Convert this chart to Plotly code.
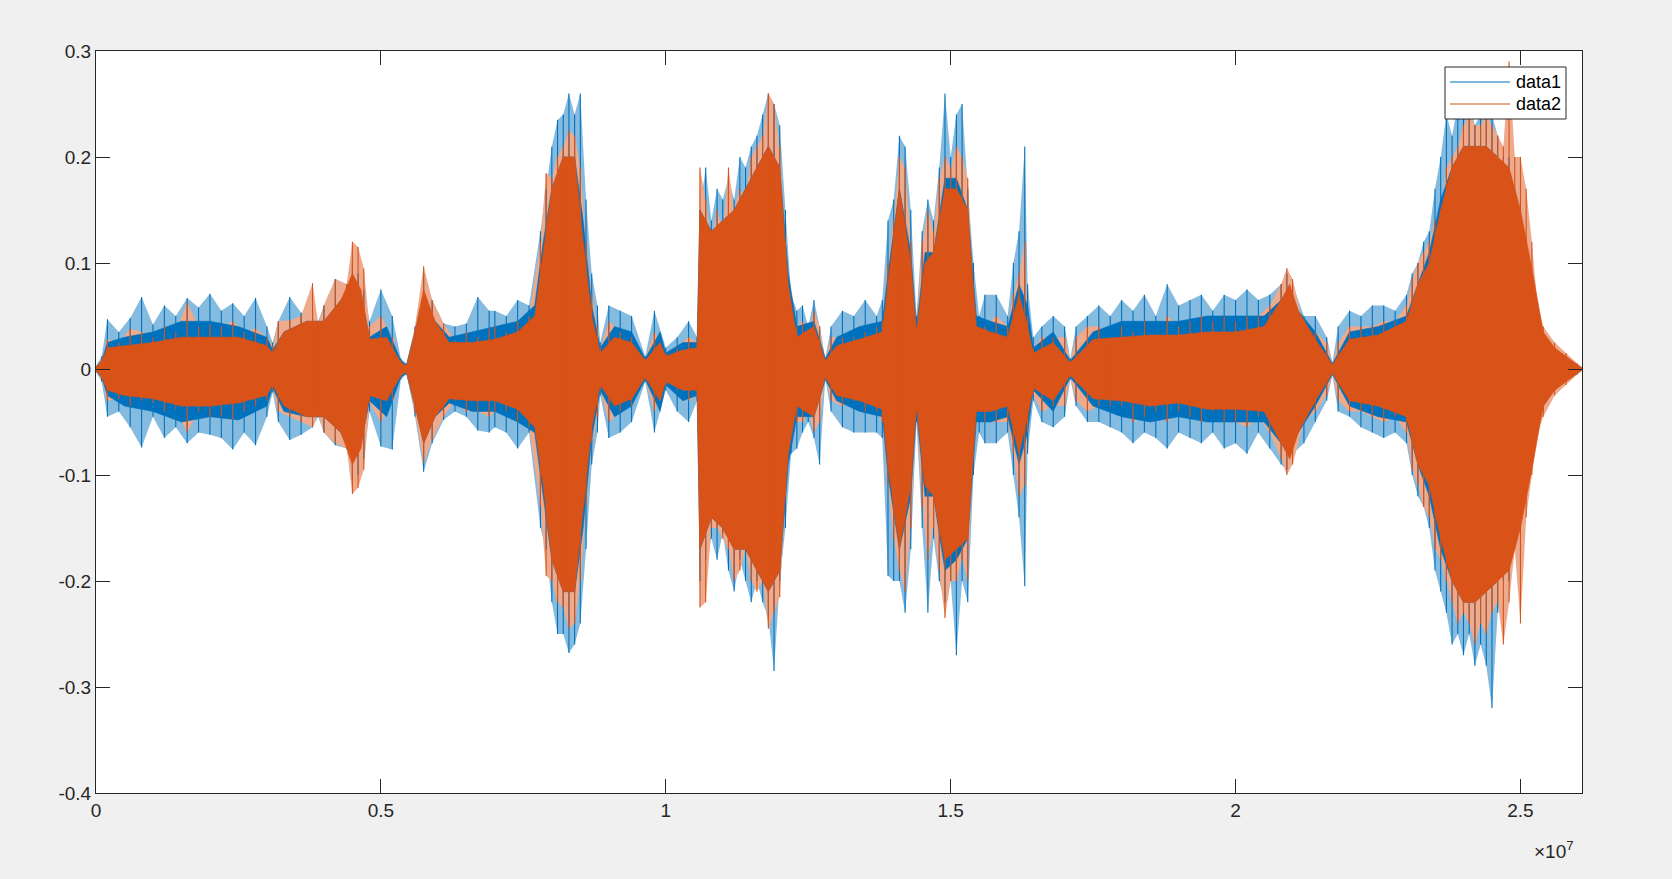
import plotly.graph_objects as go

SCALE = 1e7  # x values below are in units of 1e7 samples

# ---- peak (needle) extremes ----
peak_x = [0.000, 0.010, 0.020, 0.040, 0.060, 0.080, 0.100, 0.120, 0.140, 0.160,
          0.180, 0.200, 0.220, 0.240, 0.260, 0.280, 0.300, 0.310, 0.320, 0.340,
          0.360, 0.380, 0.390, 0.400, 0.420, 0.440, 0.450, 0.460, 0.470, 0.480,
          0.500, 0.520, 0.535, 0.545, 0.560, 0.575, 0.590, 0.610, 0.630, 0.650,
          0.670, 0.690, 0.700, 0.720, 0.740, 0.760, 0.780, 0.790, 0.800, 0.810,
          0.820, 0.830, 0.840, 0.850, 0.860, 0.870, 0.880, 0.885, 0.900, 0.920,
          0.940, 0.964, 0.980, 1.000, 1.020, 1.040, 1.055, 1.060, 1.070, 1.080,
          1.090, 1.100, 1.110, 1.120, 1.130, 1.140, 1.150, 1.160, 1.170, 1.180,
          1.190, 1.200, 1.210, 1.220, 1.230, 1.240, 1.250, 1.260, 1.270, 1.280,
          1.290, 1.310, 1.330, 1.350, 1.370, 1.380, 1.390, 1.400, 1.410, 1.420,
          1.430, 1.440, 1.450, 1.460, 1.470, 1.480, 1.490, 1.500, 1.510, 1.520,
          1.530, 1.540, 1.550, 1.560, 1.580, 1.600, 1.610, 1.620, 1.630, 1.635,
          1.645, 1.660, 1.680, 1.700, 1.710, 1.720, 1.740, 1.760, 1.780, 1.800,
          1.820, 1.840, 1.860, 1.880, 1.900, 1.920, 1.940, 1.960, 1.980, 2.000,
          2.020, 2.040, 2.060, 2.080, 2.090, 2.100, 2.120, 2.140, 2.160, 2.170,
          2.180, 2.200, 2.220, 2.240, 2.260, 2.280, 2.300, 2.310, 2.320, 2.330,
          2.340, 2.350, 2.360, 2.370, 2.380, 2.390, 2.400, 2.410, 2.420, 2.430,
          2.440, 2.450, 2.460, 2.470, 2.480, 2.490, 2.500, 2.510, 2.520, 2.530,
          2.540, 2.560, 2.580, 2.600, 2.608]

data1_peak_up = [0.003, 0.012, 0.047, 0.035, 0.048, 0.068, 0.042, 0.060, 0.050, 0.067,
                 0.058, 0.071, 0.055, 0.062, 0.050, 0.067, 0.040, 0.025, 0.045, 0.068,
                 0.053, 0.055, 0.045, 0.060, 0.085, 0.080, 0.100, 0.090, 0.075, 0.045,
                 0.075, 0.050, 0.010, 0.005, 0.040, 0.090, 0.065, 0.043, 0.040, 0.043,
                 0.068, 0.055, 0.055, 0.050, 0.065, 0.060, 0.130, 0.170, 0.210, 0.235,
                 0.240, 0.260, 0.240, 0.260, 0.160, 0.090, 0.060, 0.025, 0.060, 0.055,
                 0.050, 0.012, 0.055, 0.020, 0.030, 0.045, 0.030, 0.150, 0.190, 0.140,
                 0.170, 0.160, 0.180, 0.160, 0.200, 0.190, 0.210, 0.220, 0.240, 0.260,
                 0.250, 0.230, 0.150, 0.070, 0.055, 0.060, 0.040, 0.065, 0.040, 0.010,
                 0.040, 0.055, 0.050, 0.065, 0.050, 0.065, 0.140, 0.160, 0.220, 0.210,
                 0.150, 0.050, 0.130, 0.160, 0.140, 0.190, 0.260, 0.200, 0.240, 0.250,
                 0.170, 0.100, 0.050, 0.070, 0.070, 0.050, 0.100, 0.130, 0.210, 0.080,
                 0.030, 0.040, 0.050, 0.040, 0.010, 0.040, 0.050, 0.060, 0.050, 0.065,
                 0.055, 0.070, 0.050, 0.080, 0.060, 0.065, 0.070, 0.055, 0.070, 0.065,
                 0.075, 0.065, 0.070, 0.080, 0.090, 0.080, 0.050, 0.050, 0.030, 0.006,
                 0.040, 0.055, 0.050, 0.060, 0.060, 0.055, 0.070, 0.090, 0.100, 0.120,
                 0.130, 0.170, 0.200, 0.240, 0.220, 0.250, 0.240, 0.250, 0.230, 0.240,
                 0.240, 0.240, 0.220, 0.200, 0.200, 0.170, 0.160, 0.120, 0.090, 0.050,
                 0.035, 0.020, 0.012, 0.005, 0.001]

data1_peak_low = [-0.003, -0.012, -0.045, -0.040, -0.055, -0.074, -0.045, -0.065, -0.055, -0.070,
                  -0.060, -0.062, -0.065, -0.076, -0.060, -0.072, -0.045, -0.022, -0.050, -0.067,
                  -0.062, -0.055, -0.045, -0.060, -0.072, -0.075, -0.105, -0.100, -0.085, -0.040,
                  -0.073, -0.076, -0.010, -0.005, -0.045, -0.097, -0.070, -0.048, -0.040, -0.045,
                  -0.058, -0.060, -0.055, -0.060, -0.075, -0.060, -0.150, -0.170, -0.220, -0.250,
                  -0.250, -0.268, -0.260, -0.240, -0.170, -0.090, -0.060, -0.025, -0.065, -0.060,
                  -0.050, -0.012, -0.060, -0.020, -0.040, -0.050, -0.030, -0.200, -0.180, -0.160,
                  -0.180, -0.155, -0.190, -0.210, -0.180, -0.200, -0.220, -0.200, -0.220, -0.235,
                  -0.285, -0.200, -0.150, -0.080, -0.075, -0.060, -0.050, -0.065, -0.090, -0.010,
                  -0.040, -0.055, -0.060, -0.060, -0.060, -0.065, -0.195, -0.200, -0.200, -0.230,
                  -0.170, -0.050, -0.150, -0.230, -0.160, -0.200, -0.220, -0.200, -0.270, -0.200,
                  -0.220, -0.100, -0.060, -0.070, -0.070, -0.060, -0.100, -0.140, -0.205, -0.080,
                  -0.030, -0.050, -0.055, -0.045, -0.010, -0.035, -0.050, -0.050, -0.055, -0.060,
                  -0.070, -0.060, -0.065, -0.075, -0.060, -0.065, -0.070, -0.060, -0.075, -0.070,
                  -0.080, -0.060, -0.075, -0.090, -0.095, -0.080, -0.070, -0.050, -0.030, -0.006,
                  -0.040, -0.045, -0.055, -0.060, -0.065, -0.060, -0.070, -0.100, -0.120, -0.130,
                  -0.150, -0.190, -0.210, -0.230, -0.260, -0.250, -0.270, -0.250, -0.280, -0.260,
                  -0.280, -0.320, -0.230, -0.200, -0.200, -0.160, -0.140, -0.120, -0.090, -0.050,
                  -0.040, -0.020, -0.012, -0.005, -0.001]

data2_peak_up = [0.002, 0.010, 0.028, 0.025, 0.038, 0.035, 0.030, 0.040, 0.035, 0.063,
                 0.040, 0.042, 0.040, 0.045, 0.035, 0.038, 0.030, 0.022, 0.045, 0.046,
                 0.050, 0.081, 0.043, 0.060, 0.085, 0.080, 0.120, 0.115, 0.095, 0.040,
                 0.050, 0.030, 0.008, 0.004, 0.040, 0.097, 0.065, 0.043, 0.027, 0.035,
                 0.030, 0.038, 0.040, 0.035, 0.045, 0.050, 0.120, 0.185, 0.180, 0.200,
                 0.210, 0.225, 0.220, 0.190, 0.120, 0.070, 0.040, 0.020, 0.045, 0.035,
                 0.030, 0.010, 0.035, 0.015, 0.020, 0.030, 0.025, 0.190, 0.160, 0.120,
                 0.150, 0.130, 0.190, 0.150, 0.170, 0.160, 0.200, 0.210, 0.220, 0.260,
                 0.250, 0.210, 0.120, 0.050, 0.040, 0.045, 0.035, 0.055, 0.040, 0.008,
                 0.030, 0.030, 0.030, 0.035, 0.040, 0.045, 0.100, 0.140, 0.200, 0.190,
                 0.120, 0.040, 0.120, 0.150, 0.130, 0.180, 0.200, 0.190, 0.210, 0.200,
                 0.180, 0.070, 0.040, 0.040, 0.050, 0.040, 0.070, 0.090, 0.120, 0.050,
                 0.020, 0.030, 0.030, 0.030, 0.008, 0.030, 0.040, 0.040, 0.030, 0.040,
                 0.035, 0.045, 0.030, 0.050, 0.040, 0.045, 0.050, 0.045, 0.050, 0.045,
                 0.050, 0.050, 0.060, 0.080, 0.095, 0.085, 0.040, 0.035, 0.025, 0.005,
                 0.025, 0.040, 0.040, 0.040, 0.045, 0.045, 0.060, 0.085, 0.100, 0.110,
                 0.120, 0.140, 0.150, 0.190, 0.200, 0.210, 0.230, 0.240, 0.230, 0.230,
                 0.240, 0.230, 0.220, 0.210, 0.290, 0.200, 0.200, 0.170, 0.120, 0.060,
                 0.040, 0.025, 0.015, 0.005, 0.001]

data2_peak_low = [-0.002, -0.010, -0.030, -0.028, -0.035, -0.030, -0.032, -0.040, -0.038, -0.060,
                  -0.040, -0.045, -0.045, -0.048, -0.040, -0.035, -0.030, -0.020, -0.040, -0.045,
                  -0.050, -0.055, -0.042, -0.060, -0.070, -0.075, -0.118, -0.112, -0.095, -0.032,
                  -0.050, -0.030, -0.008, -0.004, -0.042, -0.089, -0.067, -0.045, -0.030, -0.040,
                  -0.040, -0.045, -0.040, -0.040, -0.050, -0.055, -0.130, -0.195, -0.200, -0.220,
                  -0.225, -0.245, -0.240, -0.200, -0.130, -0.070, -0.045, -0.020, -0.050, -0.040,
                  -0.035, -0.010, -0.040, -0.015, -0.020, -0.030, -0.025, -0.225, -0.220, -0.150,
                  -0.150, -0.160, -0.170, -0.200, -0.190, -0.170, -0.200, -0.210, -0.200, -0.245,
                  -0.230, -0.215, -0.120, -0.050, -0.050, -0.050, -0.040, -0.060, -0.050, -0.008,
                  -0.030, -0.035, -0.030, -0.040, -0.040, -0.050, -0.110, -0.160, -0.190, -0.210,
                  -0.150, -0.040, -0.130, -0.180, -0.150, -0.190, -0.235, -0.200, -0.200, -0.180,
                  -0.200, -0.070, -0.040, -0.050, -0.050, -0.050, -0.080, -0.120, -0.110, -0.060,
                  -0.025, -0.040, -0.035, -0.035, -0.008, -0.030, -0.040, -0.035, -0.035, -0.035,
                  -0.050, -0.045, -0.040, -0.050, -0.040, -0.045, -0.050, -0.040, -0.050, -0.050,
                  -0.055, -0.045, -0.060, -0.085, -0.100, -0.090, -0.050, -0.040, -0.025, -0.005,
                  -0.030, -0.040, -0.040, -0.045, -0.050, -0.045, -0.060, -0.095, -0.110, -0.130,
                  -0.140, -0.170, -0.180, -0.200, -0.220, -0.240, -0.230, -0.240, -0.260, -0.240,
                  -0.250, -0.230, -0.220, -0.260, -0.220, -0.170, -0.240, -0.140, -0.100, -0.060,
                  -0.045, -0.025, -0.015, -0.005, -0.001]

# ---- dense core band ----
core_x = [0.000, 0.010, 0.020, 0.050, 0.100, 0.150, 0.200, 0.250, 0.300, 0.310,
          0.330, 0.370, 0.400, 0.430, 0.450, 0.465, 0.480, 0.510, 0.535, 0.545,
          0.560, 0.575, 0.595, 0.620, 0.660, 0.700, 0.740, 0.770, 0.785, 0.800,
          0.820, 0.840, 0.855, 0.870, 0.885, 0.910, 0.940, 0.964, 0.990, 1.000,
          1.030, 1.055, 1.060, 1.080, 1.100, 1.120, 1.140, 1.160, 1.180, 1.200,
          1.215, 1.230, 1.260, 1.280, 1.300, 1.340, 1.380, 1.390, 1.410, 1.430,
          1.440, 1.455, 1.470, 1.490, 1.510, 1.530, 1.545, 1.570, 1.600, 1.620,
          1.635, 1.645, 1.680, 1.710, 1.750, 1.800, 1.850, 1.900, 1.950, 2.000,
          2.050, 2.080, 2.095, 2.110, 2.140, 2.170, 2.200, 2.250, 2.300, 2.320,
          2.340, 2.360, 2.380, 2.400, 2.420, 2.440, 2.460, 2.480, 2.500, 2.520,
          2.540, 2.560, 2.580, 2.600, 2.608]

data1_core_up = [0.002, 0.008, 0.025, 0.030, 0.035, 0.045, 0.045, 0.040, 0.030, 0.018,
                 0.035, 0.045, 0.045, 0.065, 0.085, 0.070, 0.030, 0.040, 0.008, 0.004,
                 0.035, 0.070, 0.045, 0.030, 0.035, 0.040, 0.045, 0.060, 0.120, 0.170,
                 0.200, 0.200, 0.140, 0.060, 0.020, 0.040, 0.035, 0.010, 0.035, 0.015,
                 0.025, 0.025, 0.150, 0.130, 0.140, 0.150, 0.170, 0.190, 0.210, 0.190,
                 0.090, 0.040, 0.045, 0.010, 0.030, 0.040, 0.045, 0.090, 0.170, 0.110,
                 0.040, 0.110, 0.110, 0.180, 0.180, 0.150, 0.050, 0.045, 0.040, 0.080,
                 0.060, 0.020, 0.035, 0.008, 0.035, 0.045, 0.045, 0.045, 0.050, 0.050,
                 0.050, 0.065, 0.075, 0.055, 0.035, 0.005, 0.035, 0.040, 0.050, 0.080,
                 0.110, 0.160, 0.190, 0.210, 0.210, 0.210, 0.200, 0.180, 0.130, 0.075,
                 0.030, 0.018, 0.010, 0.004, 0.001]

data1_core_low = [-0.002, -0.008, -0.025, -0.035, -0.040, -0.050, -0.045, -0.048, -0.035, -0.018,
                  -0.040, -0.045, -0.045, -0.060, -0.085, -0.070, -0.030, -0.045, -0.008, -0.004,
                  -0.035, -0.070, -0.045, -0.032, -0.040, -0.040, -0.050, -0.060, -0.120, -0.180,
                  -0.210, -0.210, -0.150, -0.065, -0.020, -0.045, -0.035, -0.010, -0.040, -0.015,
                  -0.030, -0.025, -0.170, -0.140, -0.150, -0.170, -0.170, -0.190, -0.210, -0.190,
                  -0.090, -0.045, -0.045, -0.010, -0.030, -0.040, -0.045, -0.100, -0.170, -0.120,
                  -0.040, -0.120, -0.120, -0.190, -0.180, -0.160, -0.050, -0.050, -0.045, -0.090,
                  -0.060, -0.020, -0.040, -0.008, -0.035, -0.045, -0.050, -0.045, -0.050, -0.050,
                  -0.050, -0.070, -0.080, -0.060, -0.035, -0.005, -0.035, -0.045, -0.050, -0.090,
                  -0.120, -0.170, -0.200, -0.220, -0.220, -0.210, -0.200, -0.180, -0.130, -0.075,
                  -0.035, -0.018, -0.010, -0.004, -0.001]

data2_core_up = [0.002, 0.007, 0.020, 0.022, 0.025, 0.030, 0.030, 0.030, 0.022, 0.015,
                 0.035, 0.045, 0.045, 0.065, 0.090, 0.075, 0.028, 0.030, 0.006, 0.003,
                 0.035, 0.075, 0.045, 0.025, 0.025, 0.028, 0.035, 0.050, 0.110, 0.170,
                 0.200, 0.200, 0.120, 0.050, 0.015, 0.030, 0.025, 0.008, 0.025, 0.012,
                 0.018, 0.020, 0.150, 0.130, 0.140, 0.150, 0.170, 0.190, 0.210, 0.190,
                 0.080, 0.030, 0.040, 0.008, 0.022, 0.028, 0.035, 0.080, 0.170, 0.100,
                 0.035, 0.100, 0.110, 0.170, 0.170, 0.150, 0.040, 0.035, 0.030, 0.070,
                 0.040, 0.015, 0.025, 0.006, 0.028, 0.030, 0.032, 0.032, 0.035, 0.035,
                 0.040, 0.065, 0.080, 0.055, 0.028, 0.004, 0.028, 0.032, 0.045, 0.080,
                 0.100, 0.150, 0.190, 0.210, 0.210, 0.210, 0.200, 0.190, 0.150, 0.095,
                 0.035, 0.020, 0.012, 0.004, 0.001]

data2_core_low = [-0.002, -0.007, -0.020, -0.025, -0.028, -0.035, -0.035, -0.032, -0.025, -0.015,
                  -0.035, -0.045, -0.045, -0.060, -0.090, -0.075, -0.025, -0.030, -0.006, -0.003,
                  -0.035, -0.070, -0.045, -0.028, -0.030, -0.030, -0.038, -0.055, -0.110, -0.180,
                  -0.210, -0.210, -0.130, -0.055, -0.015, -0.035, -0.028, -0.008, -0.030, -0.012,
                  -0.020, -0.020, -0.170, -0.140, -0.150, -0.170, -0.170, -0.190, -0.210, -0.190,
                  -0.080, -0.035, -0.045, -0.008, -0.025, -0.030, -0.038, -0.090, -0.170, -0.110,
                  -0.035, -0.110, -0.120, -0.180, -0.170, -0.160, -0.040, -0.040, -0.035, -0.080,
                  -0.045, -0.018, -0.030, -0.006, -0.028, -0.030, -0.035, -0.032, -0.038, -0.038,
                  -0.040, -0.070, -0.085, -0.060, -0.030, -0.004, -0.030, -0.035, -0.045, -0.090,
                  -0.110, -0.160, -0.200, -0.220, -0.220, -0.210, -0.200, -0.190, -0.150, -0.095,
                  -0.035, -0.020, -0.012, -0.004, -0.001]

series_names = ["data1", "data2"]
series_colors = ["#0072BD", "#D95319"]
series_fringe = ["#86BBE0", "#EDAA8C"]  # lighter tint for the sparse outer part
x_ticks = [0, 0.5, 1, 1.5, 2, 2.5]
x_tick_labels = ["0", "0.5", "1", "1.5", "2", "2.5"]
y_ticks = [-0.4, -0.3, -0.2, -0.1, 0, 0.1, 0.2, 0.3]
y_tick_labels = ["-0.4", "-0.3", "-0.2", "-0.1", "0", "0.1", "0.2", "0.3"]
x_max = 2.608

fig = go.Figure()


def fringe_trace(name, fill, pu, pl):
    ox = [v * SCALE for v in peak_x] + [v * SCALE for v in peak_x[::-1]]
    oy = list(pu) + list(pl[::-1])
    return go.Scatter(x=ox, y=oy, mode="lines", fill="toself", fillcolor=fill,
                      line=dict(width=0), name=name, showlegend=False,
                      hoverinfo="skip")


def needle_trace(name, color, pu, pl):
    nx, ny = [], []
    for xv, u, l in zip(peak_x, pu, pl):
        nx += [xv * SCALE, xv * SCALE, None]
        ny += [l, u, None]
    return go.Scatter(x=nx, y=ny, mode="lines", line=dict(color=color, width=1.1),
                      name=name, showlegend=False, hoverinfo="skip")


def core_trace(name, color, cu, cl):
    xs = [v * SCALE for v in core_x] + [v * SCALE for v in core_x[::-1]]
    ys = list(cu) + list(cl[::-1])
    return go.Scatter(x=xs, y=ys, mode="lines", fill="toself", fillcolor=color,
                      line=dict(color=color, width=0.6), name=name,
                      showlegend=False, hoverinfo="skip")


n1, n2 = series_names
c1, c2 = series_colors
f1, f2 = series_fringe

# drawing order: data2 (orange) ends on top, as in the original
fig.add_trace(fringe_trace(n1, f1, data1_peak_up, data1_peak_low))
fig.add_trace(fringe_trace(n2, f2, data2_peak_up, data2_peak_low))
fig.add_trace(core_trace(n1, c1, data1_core_up, data1_core_low))
fig.add_trace(needle_trace(n1, c1, data1_peak_up, data1_peak_low))
fig.add_trace(core_trace(n2, c2, data2_core_up, data2_core_low))
fig.add_trace(needle_trace(n2, c2, data2_peak_up, data2_peak_low))

axis_color = "#262626"


def px_x(X):
    return (X - 96) / 1486.0


def px_y(Y):
    return (793 - Y) / 742.0


# legend box drawn like the original (box, line samples, labels)
shapes = [dict(type="rect", xref="paper", yref="paper",
               x0=px_x(1445), x1=px_x(1566), y0=px_y(119), y1=px_y(67),
               line=dict(color=axis_color, width=1), fillcolor="white",
               layer="above")]
annotations = []
for i, (name, color) in enumerate(zip(series_names, series_colors)):
    yy = px_y(82 + 22 * i)
    shapes.append(dict(type="line", xref="paper", yref="paper",
                       x0=px_x(1450), x1=px_x(1510), y0=yy, y1=yy,
                       line=dict(color=color, width=1.2), layer="above"))
    annotations.append(dict(text=name, xref="paper", yref="paper",
                            x=px_x(1514), y=yy, xanchor="left", yanchor="middle",
                            showarrow=False,
                            font=dict(size=18, color="#000000")))

annotations.append(dict(text="×10<sup>7</sup>", xref="paper", yref="paper",
                        x=px_x(1576), y=px_y(850), xanchor="right",
                        yanchor="middle", showarrow=False,
                        font=dict(size=19, color=axis_color)))

fig.update_layout(
    width=1672, height=879,
    margin=dict(l=96, r=90, t=51, b=86),
    paper_bgcolor="#F0F0F0", plot_bgcolor="white",
    font=dict(family="Liberation Sans, Arial, sans-serif", size=19, color=axis_color),
    showlegend=False,
    shapes=shapes, annotations=annotations,
)
fig.update_xaxes(range=[0, x_max * SCALE], tickvals=[t * SCALE for t in x_ticks],
                 ticktext=x_tick_labels, ticks="inside", ticklen=14,
                 tickcolor=axis_color, showline=True, linecolor=axis_color,
                 linewidth=1, mirror="ticks", showgrid=False, zeroline=False)
fig.update_yaxes(range=[-0.4, 0.3], tickvals=y_ticks, ticktext=y_tick_labels,
                 ticks="inside", ticklen=14, tickcolor=axis_color, showline=True,
                 linecolor=axis_color, linewidth=1, mirror="ticks",
                 showgrid=False, zeroline=False)

fig.write_html("out.html", config={"displayModeBar": False},
               post_script="document.body.style.margin='0';"
                           "document.body.style.background='#F0F0F0';")
